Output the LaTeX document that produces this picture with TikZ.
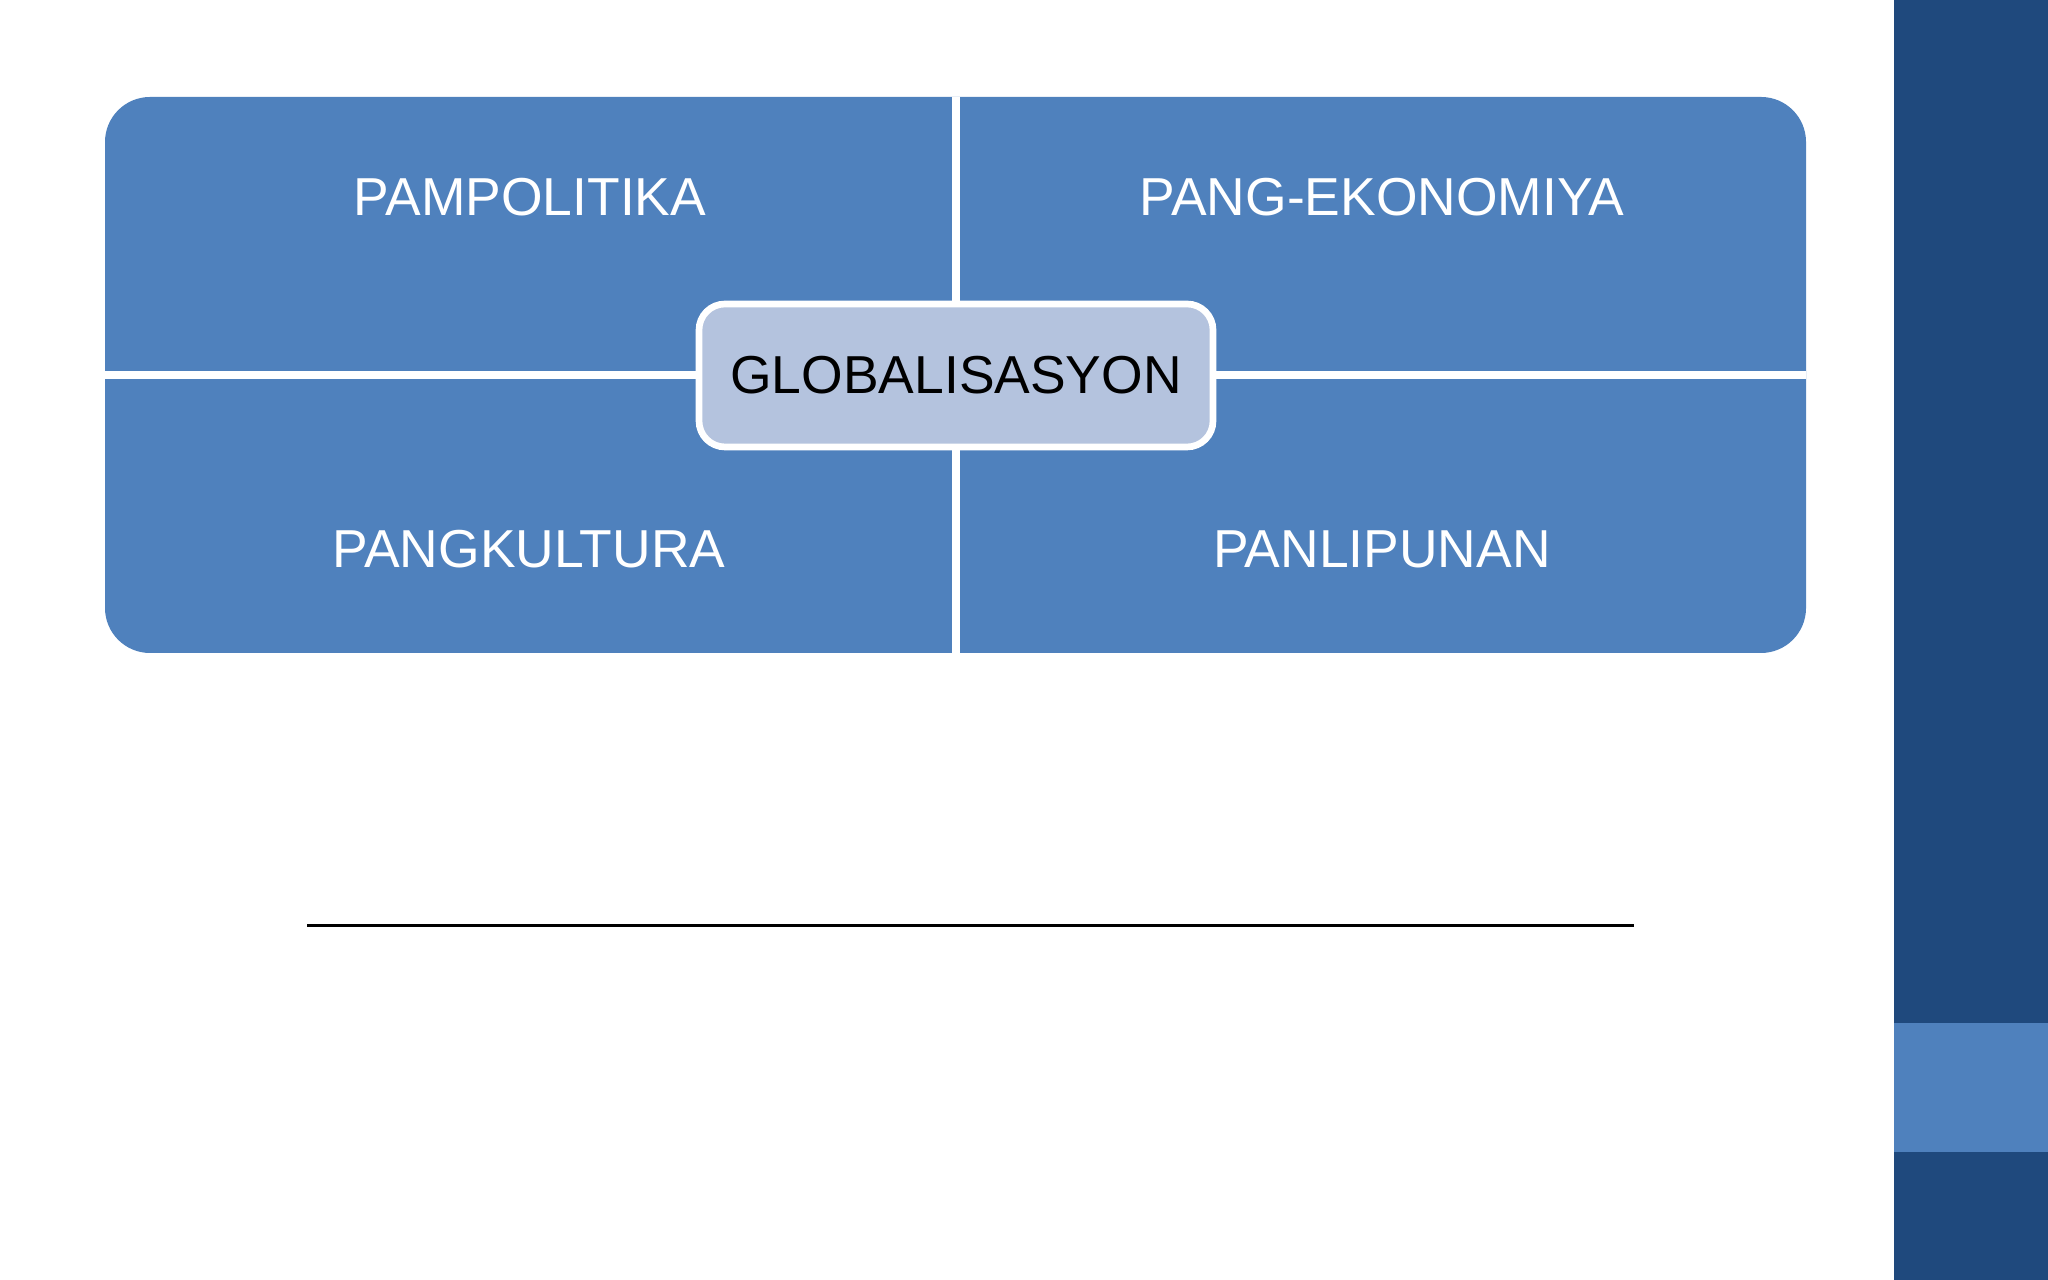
\documentclass[tikz,border=0pt]{standalone}
\usepackage{fontspec}
\setmainfont{Liberation Sans}
\definecolor{quadblue}{HTML}{4F81BD}
\definecolor{navy}{HTML}{1F497D}
\definecolor{hubfill}{HTML}{B4C3DE}
\tikzset{
  quadlabel/.style={text=white, font=\fontsize{15.2}{18}\selectfont},
  divider/.style={white, line width=2.1pt},
  hub/.style={draw=white, line width=1.9pt, fill=hubfill, rounded corners=2.6mm,
    minimum width=51.4mm, minimum height=14.3mm, font=\fontsize{15.2}{18}\selectfont}
}
\begin{document}
\begin{tikzpicture}[x=1mm, y=1mm]
\useasboundingbox (0,0) rectangle (204.8,128);

% side bar
\fill[navy] (189.4,0) rectangle (204.8,128);
\fill[quadblue] (189.4,12.8) rectangle (204.8,25.7);

% four quadrants
\fill[quadblue, rounded corners=4.5mm] (10.5,62.7) rectangle (180.6,118.3);
\draw[divider] (95.6,62.7) -- (95.6,118.3);
\draw[divider] (10.5,90.5) -- (180.6,90.5);

\node[quadlabel] (pol) at (53,108.3) {PAMPOLITIKA};
\node[quadlabel] (eko) at (138.2,108.3) {PANG-EKONOMIYA};
\node[quadlabel] (kul) at (52.9,73.1) {PANGKULTURA};
\node[quadlabel] (lip) at (138.2,73.1) {PANLIPUNAN};

\node[hub] (glob) at (95.6,90.45) {GLOBALISASYON};

% rule below
\coordinate (ruleL) at (30.7,35.4);
\coordinate (ruleR) at (163.4,35.4);
\draw[line width=0.85pt] (ruleL) -- (ruleR);
\end{tikzpicture}
\end{document}
